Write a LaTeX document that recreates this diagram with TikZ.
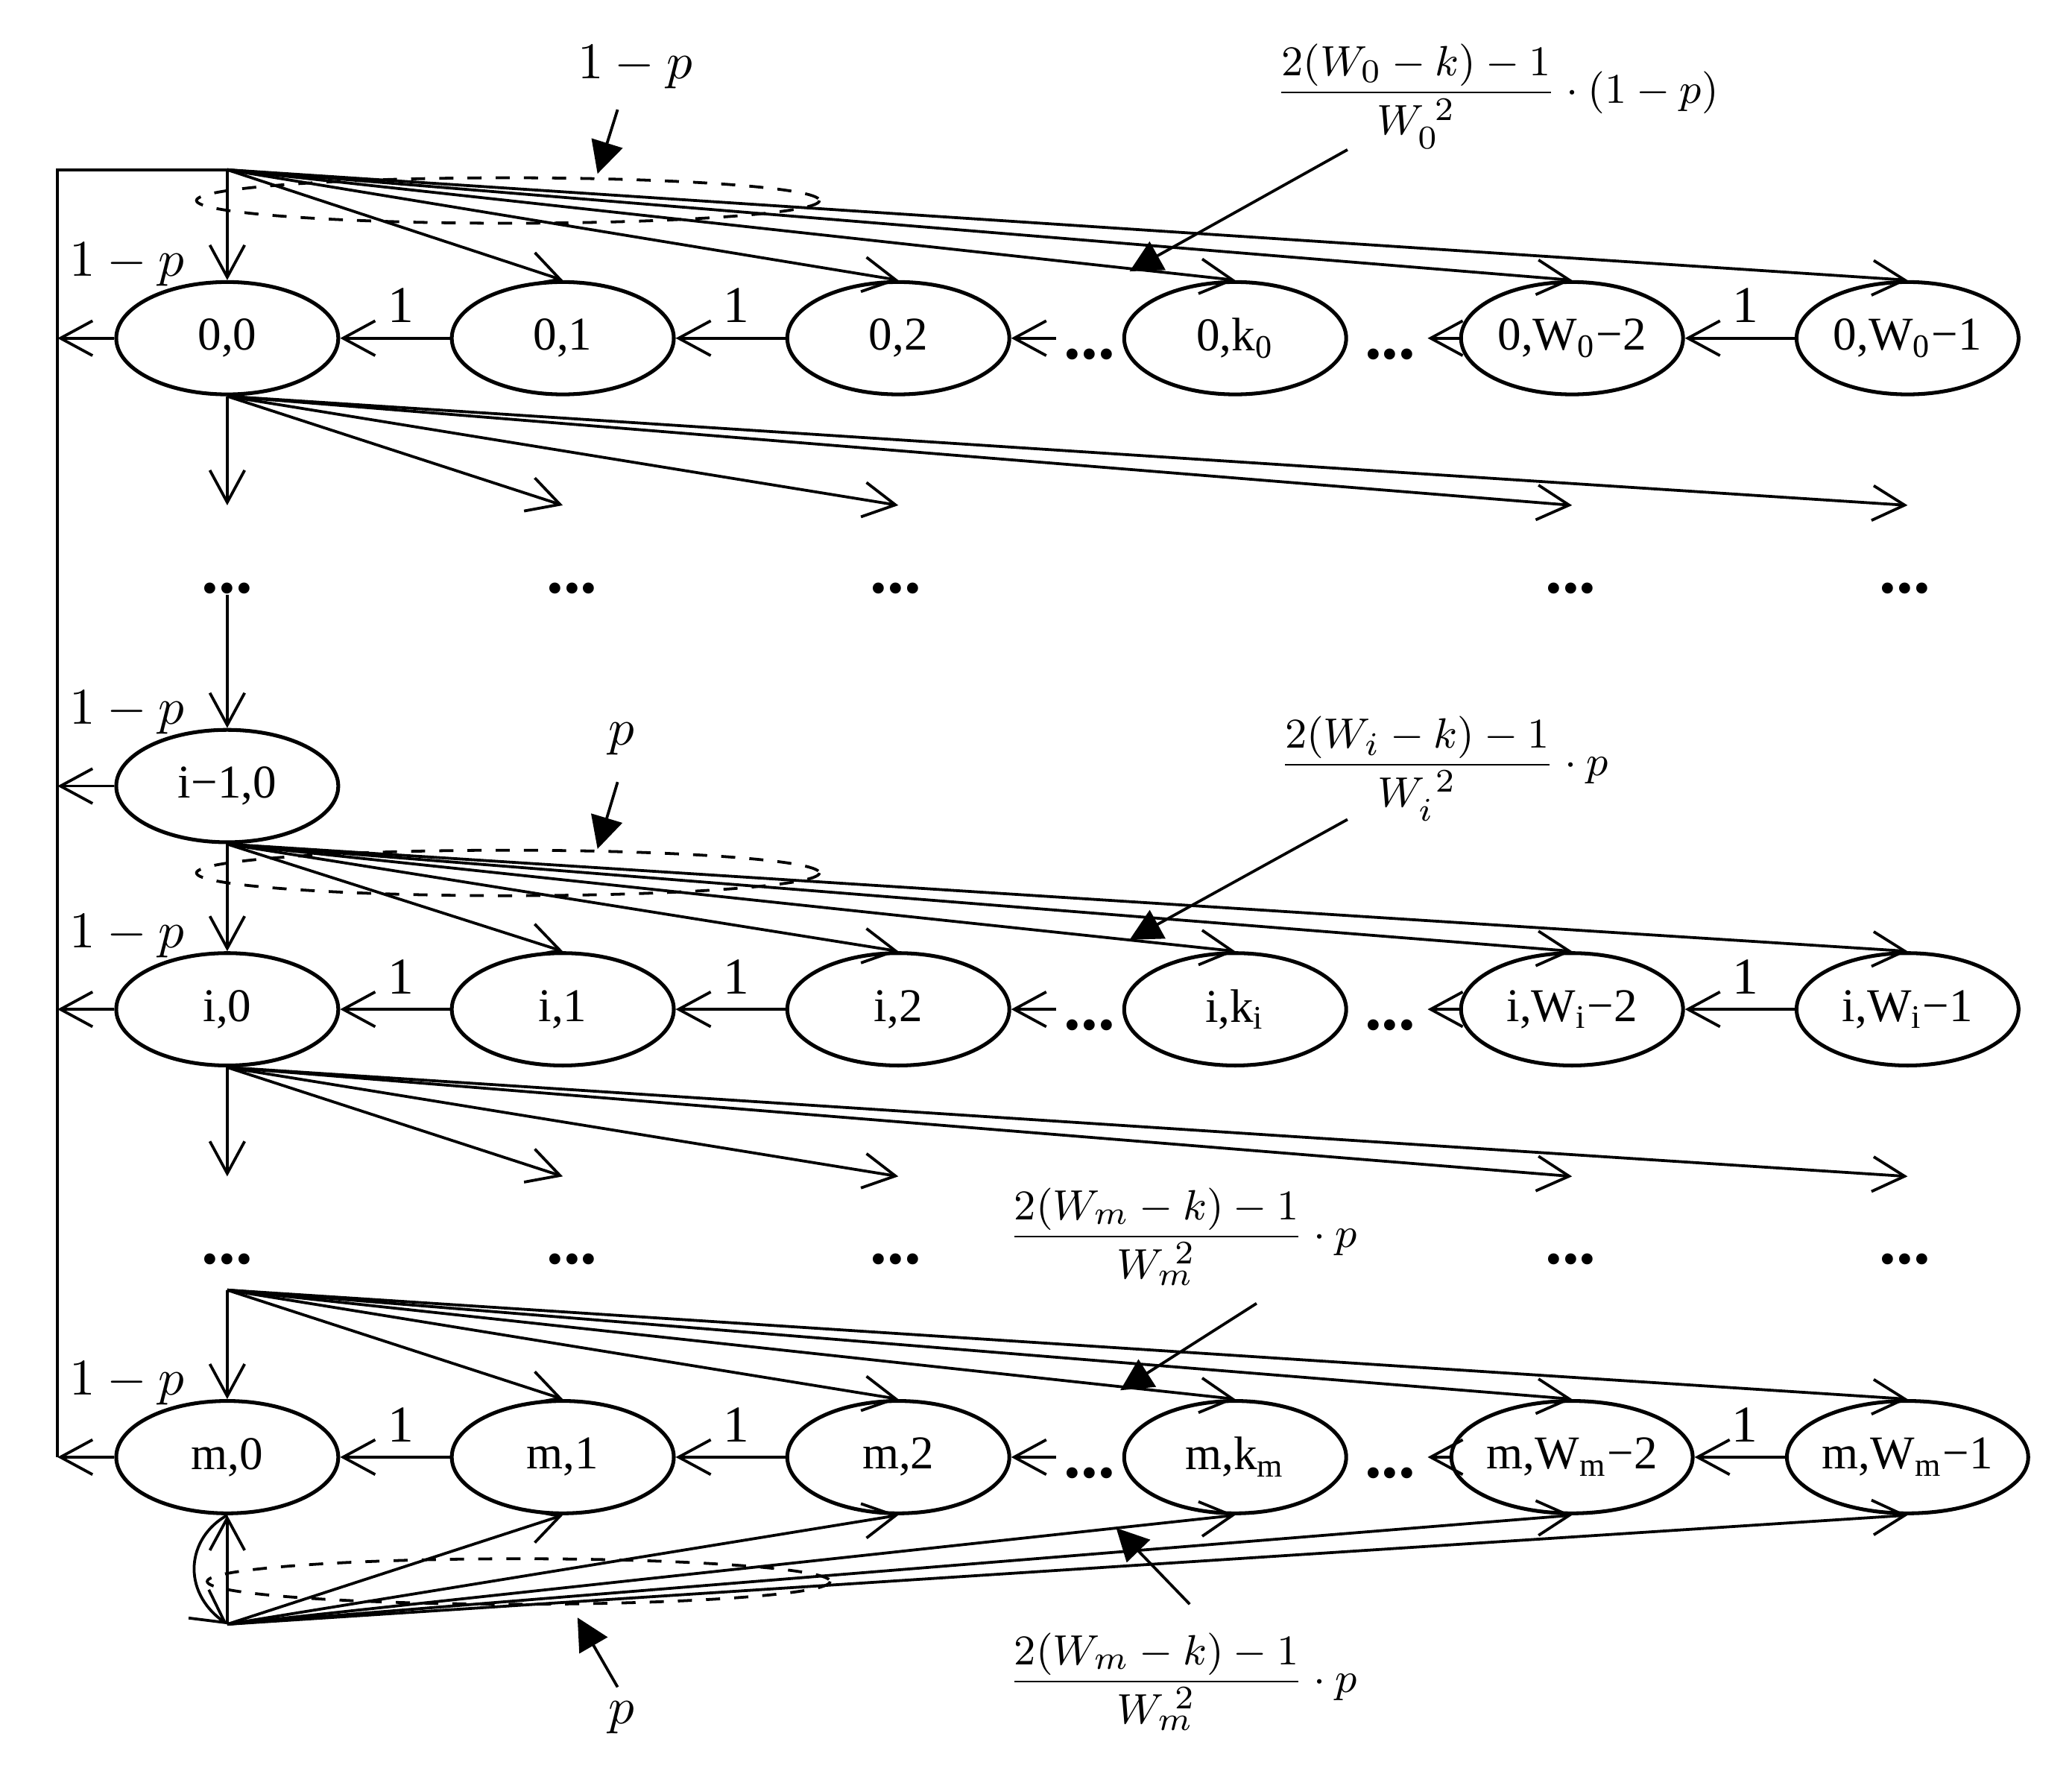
\documentclass[tikz,border=0pt]{standalone}
\usepackage{fontspec}
\usepackage{amsmath}
\setmainfont{Liberation Serif}
\usetikzlibrary{arrows.meta,positioning,shapes.geometric}
\tikzset{
  st/.style={draw,thick,ellipse,minimum width=1.66cm,minimum height=0.84cm,inner sep=0pt,font=\fontsize{10}{12}\selectfont},
  arr/.style={semithick,-{Straight Barb[length=2.4mm,width=2.6mm]}},
  lab/.style={-{Triangle[length=2.4mm,width=2.4mm]},semithick},
  dts/.style={font=\Large\bfseries,inner sep=0pt},
  txt/.style={font=\fontsize{11}{13}\selectfont,inner sep=1pt},
  frc/.style={font=\fontsize{9.5}{11}\selectfont,inner sep=1pt}
}
\begin{document}
\begin{tikzpicture}[x=0.01cm,y=-0.01cm]
	\useasboundingbox (0,0) rectangle (1550,1322);
	%% the states
	\foreach \r/\y in {0/253,i/755,m/1090} {
		\foreach \c/\x/\t in {0/170/{\r,0},1/421/{\r,1},2/672/{\r,2},3/924/{\r,k$_\mathrm{\r}$},4/1176/{\r,W$_\mathrm{\r}$−2},5/1427/{\r,W$_\mathrm{\r}$−1}}
			\node[st] (\r-\c) at (\x,\y) {\t};
		\node[dts] (\r-dl) at (815,\y+12) {...};
		\node[dts] (\r-dr) at (1040,\y+12) {...};
		%% the chain
		\draw[arr] (\r-1) -- node[txt,above=2pt,pos=0.45] {1} (\r-0);
		\draw[arr] (\r-2) -- node[txt,above=2pt,pos=0.45] {1} (\r-1);
		\draw[arr] (\r-5) -- node[txt,above=2pt,pos=0.45] {1} (\r-4);
		\draw[arr] (790,\y) -- (\r-2.east);
		\draw[arr] (\r-4.west) -- (1068,\y);
		\coordinate (L-\r) at (43,\y);
		\draw[arr] (\r-0.west) -- (L-\r);
		\node[txt] at (95,\y-55) {$1-p$};
	}
	\node[st] (im1) at (170,588) {i−1,0};
	\coordinate (L-im1) at (43,588);
	\draw[arr] (im1.west) -- (L-im1);
	\node[txt] at (95,533) {$1-p$};
	%% the dots rows
	\foreach \x [count=\n] in {170,428,670,1175,1425} {
		\node[dts] (da\n) at (\x,440) {...};
		\node[dts] (db\n) at (\x,942) {...};
	}
	%% loop back line
	\coordinate (t0) at (170,127);
	\coordinate (Ltop) at (43,127);
	\draw[semithick] (t0) -- (Ltop) -- (L-m);
	%% fans into the rows
	\coordinate (tm) at (170,965);
	\coordinate (bm) at (170,1215);
	\foreach \c in {0,...,5} {
		\draw[arr] (t0) -- (0-\c.north);
		\draw[arr] (im1.south) -- (i-\c.north);
		\draw[arr] (tm) -- (m-\c.north);
		\draw[arr] (bm) -- (m-\c.south);
	}
	\draw[arr] (m-0.south) .. controls (140,1150) and (135,1190) .. (bm);
	%% fans out of the rows
	\foreach \x [count=\n] in {170,421,672,1176,1427} {
		\coordinate (d0-\n) at (\x,378);
		\coordinate (di-\n) at (\x,880);
		\draw[arr] (0-0.south) -- (d0-\n);
		\draw[arr] (i-0.south) -- (di-\n);
	}
	\draw[arr] (da1) -- (im1.north);
	%% dashed ellipses
	\draw[dashed,semithick] (380,150) ellipse (233 and 17);
	\draw[dashed,semithick] (380,653) ellipse (233 and 17);
	\draw[dashed,semithick] (388,1183) ellipse (233 and 17);
	%% the labels
	\node[txt] (l1) at (475,50) {$1-p$};
	\draw[lab] (462,82) -- (447,130);
	\node[frc] (l2) at (1120,72) {$\dfrac{2(W_0-k)-1}{W_0^{\;2}}\cdot(1-p)$};
	\draw[lab] (1008,112) -- (845,203);
	\node[frc] (l3) at (465,553) {\fontsize{11}{13}\selectfont$p$};
	\draw[lab] (462,585) -- (447,635);
	\node[frc] (l4) at (1080,575) {$\dfrac{2(W_i-k)-1}{W_i^{\;2}}\cdot p$};
	\draw[lab] (1008,613) -- (845,703);
	\node[frc] (l5) at (885,925) {$\dfrac{2(W_m-k)-1}{W_m^{\;2}}\cdot p$};
	\draw[lab] (940,975) -- (838,1040);
	\node[frc] (l6) at (885,1258) {$\dfrac{2(W_m-k)-1}{W_m^{\;2}}\cdot p$};
	\draw[lab] (890,1200) -- (835,1143);
	\node[txt] (l7) at (465,1285) {$p$};
	\draw[lab] (462,1262) -- (432,1210);
\end{tikzpicture}
\end{document}
